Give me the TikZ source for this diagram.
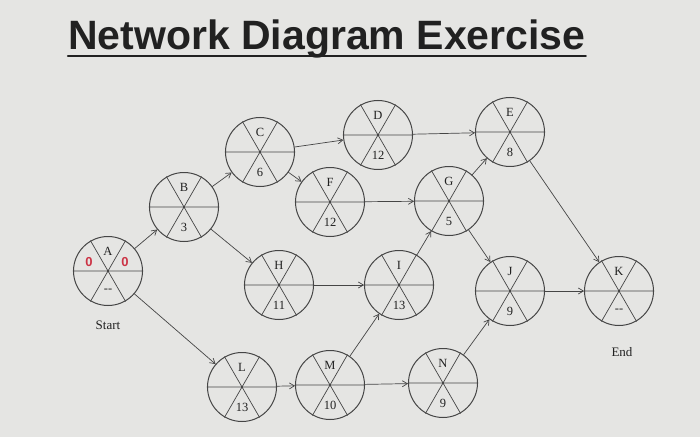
\documentclass[tikz,border=0pt]{standalone}
\usepackage{fontspec}
\setmainfont{Liberation Serif}
\newfontfamily\titlefont{Liberation Sans}
\usetikzlibrary{arrows.meta}
\definecolor{uuuuuu}{rgb}{0.27,0.27,0.27}
\definecolor{qqqqqq}{rgb}{0.13,0.13,0.13}
\definecolor{ccqqqq}{rgb}{0.8,0.2,0.27}
\definecolor{ddddcc}{rgb}{0.9,0.9,0.89}
\begin{document}
\begin{tikzpicture}[line cap=round,line join=round,>={Straight Barb[length=5pt,width=6pt]},x=1pt,y=1pt,
  event/.style={circle,draw=uuuuuu,line width=1pt,minimum size=69pt,inner sep=0pt},
  spoke/.style={draw=uuuuuu,line width=0.7pt},
  tag/.style={font=\fontsize{12.5}{12.5}\selectfont,text=qqqqqq,inner sep=0pt},
  zero/.style={font=\titlefont\bfseries\fontsize{13}{13}\selectfont,text=ccqqqq,inner sep=0pt},
  link/.style={->,draw=uuuuuu,line width=0.7pt}]
\fill[color=ddddcc] (0,0) rectangle (700,437);
\useasboundingbox (0,0) rectangle (700,437);
\node[anchor=base west,inner sep=0pt,text=qqqqqq,font=\titlefont\bfseries\fontsize{41}{41}\selectfont] (title) at (68,387) {Network Diagram Exercise};
\draw[line width=2.5pt,color=qqqqqq] ([yshift=-6pt]title.base west) -- ([yshift=-6pt]title.base east);
% events: name/x/y/duration
\foreach \n/\x/\y/\d in {A/108/166/{{-}{-}},B/184/230/3,C/260/285/6,D/378/302/12,E/510/305/8,
  F/330/235/12,G/449/236/5,H/279/152/11,I/399/152/13,J/510/146/9,K/619/146/{{-}{-}},
  L/242/50/13,M/330/52/10,N/443/54/9} {
  \node[event] (\n) at (\x,\y) {};
  \draw[spoke] (\n.west) -- (\n.east) (\n.60) -- (\n.240) (\n.120) -- (\n.300);
  \node[tag] (\n-id) at ([yshift=20pt]\n.center) {\n};
  \node[tag] (\n-dur) at ([yshift=-20pt]\n.center) {\d};
}
\node[zero] (A-es) at ([xshift=-19pt,yshift=9pt]A.center) {0};
\node[zero] (A-ef) at ([xshift=17pt,yshift=9pt]A.center) {0};
\node[tag,font=\fontsize{13}{13}\selectfont] (start) at (108,112) {Start};
\node[tag,font=\fontsize{13}{13}\selectfont] (end) at (622,85) {End};
% activities
\foreach \a/\b in {A/B,A/L,B/C,B/H,C/D,C/F,D/E,F/G,G/E,G/J,E/K,H/I,I/G,J/K,L/M,M/I,M/N,N/J}
  \draw[link] (\a) -- (\b);
\end{tikzpicture}
\end{document}
